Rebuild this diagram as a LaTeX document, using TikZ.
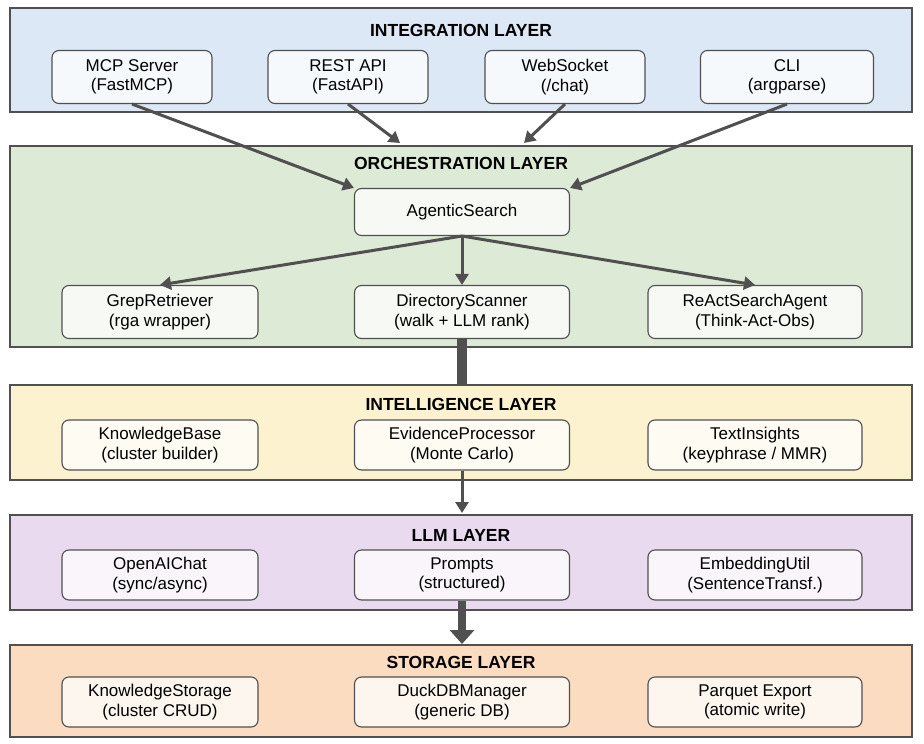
\documentclass[tikz,border=0pt]{standalone}
\usepackage{fontspec}
\setmainfont{Liberation Sans}
\usetikzlibrary{arrows.meta}
\definecolor{bl}{HTML}{DCE8F5}\definecolor{gr}{HTML}{DDEBD6}\definecolor{ye}{HTML}{FDF2D0}
\definecolor{pu}{HTML}{E9DAF0}\definecolor{or}{HTML}{FBDCC0}\definecolor{ln}{HTML}{505050}
\begin{document}
\begin{tikzpicture}[x=1pt,y=-1pt,
 layer/.style={draw=ln,line width=1.2pt},
 box/.style={draw=ln,line width=1.1pt,rounded corners=7pt,fill=white,fill opacity=0.75,text opacity=1,align=center,font=\fontsize{17}{19.5}\selectfont,inner sep=0pt},
 ttl/.style={font=\bfseries\fontsize{17.5}{20}\selectfont},
 arr/.style={draw=ln,line width=3pt,-{Triangle[length=11pt,width=13pt]}}]
\useasboundingbox (0,0) rectangle (924,744);
\fill[white] (0,0) rectangle (924,744);
\draw[layer,fill=bl] (10,8) rectangle (912,112);
\draw[layer,fill=gr] (10,146) rectangle (912,347);
\draw[layer,fill=ye] (10,385) rectangle (912,480);
\draw[layer,fill=pu] (10,515) rectangle (912,610);
\draw[layer,fill=or] (10,645) rectangle (912,737);
\node[ttl] (t1) at (461,30) {INTEGRATION LAYER};
\node[ttl] (t2) at (461,163) {ORCHESTRATION LAYER};
\node[ttl] (t3) at (461,404) {INTELLIGENCE LAYER};
\node[ttl] (t4) at (461,535) {LLM LAYER};
\node[ttl] (t5) at (461,662) {STORAGE LAYER};
\newcommand\bx[6]{\node[box,minimum width=#3pt,minimum height=#4pt] (#1) at (#2) {#5\\#6};}
\bx{mcp}{132,77}{160}{53}{MCP Server}{(FastMCP)}
\bx{rest}{348,77}{160}{53}{REST API}{(FastAPI)}
\bx{ws}{565,77}{160}{53}{WebSocket}{(/chat)}
\bx{cli}{787,77}{173}{53}{CLI}{(argparse)}
\node[box,minimum width=215pt,minimum height=47pt] (ag) at (462,212) {AgenticSearch};
\bx{grep}{160,312}{196}{53}{GrepRetriever}{(rga wrapper)}
\bx{dir}{462,312}{215}{53}{DirectoryScanner}{(walk + LLM rank)}
\bx{react}{755,312}{214}{53}{ReActSearchAgent}{(Think-Act-Obs)}
\bx{kb}{160,445}{196}{50}{KnowledgeBase}{(cluster builder)}
\bx{ev}{462,445}{215}{50}{EvidenceProcessor}{(Monte Carlo)}
\bx{ti}{755,445}{214}{50}{TextInsights}{(keyphrase / MMR)}
\bx{oa}{160,575}{196}{50}{OpenAIChat}{(sync/async)}
\bx{pr}{462,575}{215}{50}{Prompts}{(structured)}
\bx{em}{755,575}{214}{50}{EmbeddingUtil}{(SentenceTransf.)}
\bx{ks}{160,702}{196}{50}{KnowledgeStorage}{(cluster CRUD)}
\bx{dd}{462,702}{215}{50}{DuckDBManager}{(generic DB)}
\bx{pq}{755,702}{214}{50}{Parquet Export}{(atomic write)}
\coordinate (c1) at (400,143);\coordinate (c2) at (524,143);
\coordinate (e1) at (462,386);\coordinate (e2) at (462,513);\coordinate (e3) at (462,644);
\draw[arr] (mcp.south) -- (ag.north west);
\draw[arr] (rest.south) -- (c1);
\draw[arr] (ws.south) -- (c2);
\draw[arr] (cli.south) -- (ag.north east);
\draw[arr] (ag.south) -- (grep.north);
\draw[arr] (ag.south) -- (dir.north);
\draw[arr] (ag.south) -- (react.north);
\draw[ln,line width=10pt] (dir.south) -- (e1);
\draw[arr] (ev.south) -- (e2);
\draw[draw=ln,line width=8pt,-{Triangle[length=14pt,width=24pt]}] (pr.south) -- (e3);
\end{tikzpicture}
\end{document}
